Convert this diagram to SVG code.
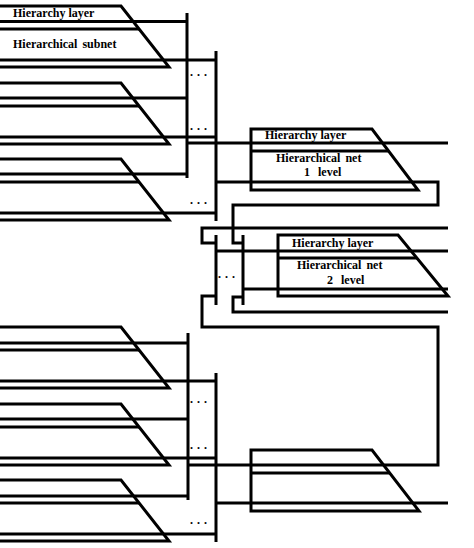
<svg xmlns="http://www.w3.org/2000/svg" width="474" height="548" viewBox="0 0 474 548">
<style>
.l{fill:none;stroke:#000;stroke-width:3;stroke-linejoin:miter}
.t{font-family:"Liberation Serif","Times New Roman",serif;font-weight:bold;font-size:12px;fill:#000}
.d{font-family:"Liberation Serif","Times New Roman",serif;font-weight:bold;font-size:12px;letter-spacing:4px;fill:#000}
</style>
<rect width="474" height="548" fill="#fff"/>
<defs>
<g id="layer">
<path class="l" d="M0,0 H121 L169,61 H0"/>
<path class="l" d="M0,23 H139"/>
</g>
</defs>
<g id="subnet1">
<use href="#layer" transform="translate(0,6)"/>
<text class="t" x="13" y="17">Hierarchy layer</text>
<text class="t" x="13" y="48" word-spacing="2">Hierarchical subnet</text>
</g>
<g id="subnet2"><use href="#layer" transform="translate(0,83)"/></g>
<g id="subnet3"><use href="#layer" transform="translate(0,159)"/></g>
<g id="subnet4"><use href="#layer" transform="translate(0,327)"/></g>
<g id="subnet5"><use href="#layer" transform="translate(0,404)"/></g>
<g id="subnet6"><use href="#layer" transform="translate(0,480)"/></g>
<g id="net1">
<path class="l" d="M251,129 H372 L418,190 H251 Z"/>
<path class="l" d="M251,151 H389"/>
<text class="t" x="265" y="139">Hierarchy layer</text>
<text class="t" x="276" y="162" word-spacing="2">Hierarchical net</text>
<text class="t" x="304" y="176" word-spacing="5">1 level</text>
</g>
<g id="net2">
<path class="l" d="M278,235 H398 L448,296 H278 Z"/>
<path class="l" d="M278,258 H417"/>
<text class="t" x="292" y="247">Hierarchy layer</text>
<text class="t" x="297" y="269" word-spacing="2">Hierarchical net</text>
<text class="t" x="327" y="284" word-spacing="5">2 level</text>
</g>
<g id="net3">
<path class="l" d="M251,450 H372 L419,511 H251 Z"/>
<path class="l" d="M251,473 H390"/>
</g>
<g id="connectors">
<path class="l" d="M187,13 V178 M216,51 V221 M216,235 V305 M243,235 V305 M188,333 V500 M216,373 V542"/>
<path class="l" d="M0,21.5 H187 M0,60 H216 M0,98 H187 M0,137 H216 M0,174 H187 M0,213 H216"/>
<path class="l" d="M0,343 H188 M0,381 H216 M0,419 H188 M0,458 H216 M0,496 H188 M0,534 H216"/>
<path class="l" d="M187,143 H448"/>
<path class="l" d="M216,182 H438 V205 H233 V243 H243"/>
<path class="l" d="M448,228 H202 V243 H216"/>
<path class="l" d="M216,251 H448"/>
<path class="l" d="M243,289 H448"/>
<path class="l" d="M243,297 H233 V312 H448"/>
<path class="l" d="M216,296 H202 V327 H438 V465 H188"/>
<path class="l" d="M216,503 H448"/>
<text class="d" x="190" y="76">...</text>
<text class="d" x="190" y="130">...</text>
<text class="d" x="190" y="204">...</text>
<text class="d" x="218" y="278">...</text>
<text class="d" x="190" y="403">...</text>
<text class="d" x="190" y="449">...</text>
<text class="d" x="190" y="524">...</text>
</g>
</svg>
